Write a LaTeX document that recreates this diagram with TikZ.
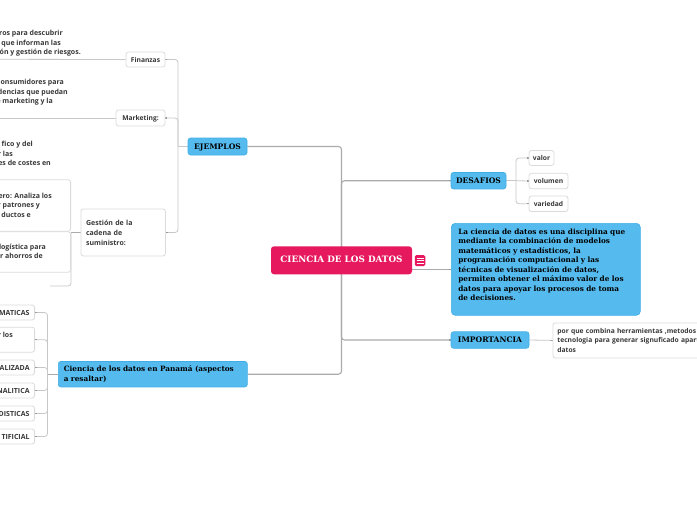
\documentclass[tikz,border=0pt]{standalone}
\usepackage{fontspec}
\usetikzlibrary{backgrounds}
\setmainfont{Open Sans}
\newfontfamily\slab{DejaVu Serif}
\definecolor{bluefill}{HTML}{55BBEE}
\definecolor{blueedge}{HTML}{3FAEE6}
\definecolor{pinkfill}{HTML}{E6195F}
\tikzset{
 x=1pt,y=-1pt,
 conn/.style={draw=black!22,line width=.8pt,rounded corners=3pt},
 lconn/.style={draw=black!33,line width=1.1pt,rounded corners=3pt},
 stub/.style={draw=black!40,line width=1.3pt},
 one/.style={text height=6pt,text depth=1pt},
 leaf/.style={draw=black!14,line width=.8pt,rounded corners=2.5pt,fill=white,text=black!78,font=\fontsize{6.7}{9.6}\selectfont\bfseries,inner sep=0pt,align=left},
 cutleaf/.style={leaf,anchor=east,minimum height=15,text width=70,inner xsep=5,align=right,font=\fontsize{7}{9.6}\selectfont\bfseries},
 bluebox/.style={draw=blueedge,line width=.6pt,rounded corners=2.5pt,fill=bluefill,text=black,inner sep=0pt,font=\slab\bfseries\fontsize{7.3}{9.5}\selectfont,align=left},
 bluehead/.style={bluebox,font=\slab\bfseries\fontsize{7.6}{9.5}\selectfont,one},
 frag/.style={font=\fontsize{7}{9.6}\selectfont\bfseries,text=black!78,inner sep=0pt,anchor=base east},
}
\begin{document}
\begin{tikzpicture}
\useasboundingbox (0,0) rectangle (697,520);
\clip (0,0) rectangle (697,520);
% main nodes
\node[bluehead,minimum width=59,minimum height=17] (ej) at (217.5,146.5) {EJEMPLOS};
\node[bluehead,minimum width=55,minimum height=16.5] (de) at (478.5,180.7) {DESAFIOS};
\node[bluehead,minimum width=78,minimum height=16.5] (im) at (490,340) {IMPORTANCIA};
\node[bluebox,minimum width=189,minimum height=92,anchor=north west,rounded corners=4pt,text width=175,inner xsep=7] (df) at (451,223) {La ciencia de datos es una disciplina que\\ mediante la combinación de modelos\\ matemáticos y estadísticos, la\\ programación computacional y las\\ técnicas de visualización de datos,\\ permiten obtener el máximo valor de los\\ datos para apoyar los procesos de toma\\ de decisiones.\\ \mbox{}};
\node[bluebox,minimum width=189,minimum height=25.5,anchor=west,text width=178,inner xsep=5.5] (ci) at (58,374.2) {Ciencia de los datos en Panamá (aspectos\\ a resaltar)};
\node[fill=pinkfill,rounded corners=3pt,minimum width=141,minimum height=28,inner sep=0pt,text=white,one,font=\slab\bfseries\fontsize{8.8}{10}\selectfont] (ct) at (341.5,260.3) {CIENCIA DE LOS DATOS};
\node[fill=pinkfill,rounded corners=1.5pt,minimum width=10.5,minimum height=11,inner sep=0pt] (me) at (420,260.5) {};
\foreach \d in {-2.5,0,2.5} {\draw[white,line width=.6pt] ([xshift=-3.5,yshift=\d]me.center) -- ([xshift=3.5,yshift=\d]me.center);}
% right leaves
\node[leaf,one,minimum width=25,minimum height=15] (va) at (541.5,158) {valor};
\node[leaf,one,minimum width=39,minimum height=15.5] (vo) at (548.5,181) {volumen};
\node[leaf,one,minimum width=39,minimum height=15.5] (vr) at (548.5,203.8) {variedad};
\node[leaf,anchor=north west,minimum width=155,minimum height=35,text width=175,inner xsep=4.5] (pq) at (552.5,322.5) {por que combina herramientas ,metodos y\\ tecnologia para generar signuficado apartir de\\ datos};
% left first level
\node[leaf,one,minimum width=39,minimum height=15] (fi) at (145.5,59.5) {Finanzas};
\node[leaf,one,minimum width=49,minimum height=16] (ma) at (140.5,118) {Marketing:};
\node[leaf,minimum width=84.5,minimum height=47,anchor=west,text width=74,inner xsep=5,font=\fontsize{7}{10}\selectfont\bfseries] (ge) at (80.5,232.5) {Gestión de la\\ cadena de\\ suministro:};
% left second level boxes
\node[leaf,anchor=east,minimum width=110,minimum height=51.5] (b1) at (71,205.5) {};
\node[leaf,anchor=east,minimum width=110,minimum height=40.5] (b2) at (71,252) {};
\coordinate (b3) at (50,286);
\coordinate (f0) at (0,59.3);
\coordinate (m0) at (0,118);
% cut leaves
\node[cutleaf,one] (l1) at (35,312.5) {MATICAS};
\node[cutleaf,minimum height=25] (l2) at (35,339.7) {};
\node[cutleaf,one] (l3) at (35,367.5) {ALIZADA};
\node[cutleaf,one] (l4) at (35,390.5) {NALITICA};
\node[cutleaf,one] (l5) at (35,413.5) {DISTICAS};
\node[cutleaf,one] (l6) at (35,436.5) {TIFICIAL};
% brackets
\coordinate (kd) at (516,180.7);
\coordinate (kl) at (178,146.5);
\coordinate (kg) at (71,232.5);
\coordinate (kc) at (47.5,374.2);
\begin{pgfonlayer}{background}
\fill[white] (0,0) rectangle (697,520);
\draw[lconn] (ct.center) |- (ej.east);
\draw[lconn] (ct.center) |- (ci.east);
\draw[lconn] (ct.center) |- (de.west);
\draw[lconn] (ct.center) |- (im.west);
\draw[lconn] (ct.east|-df.west) -- (df.west);
\draw[conn] (ej.west) -- (kl);
\draw[conn] (kl) |- (fi.east);
\draw[conn] (kl) |- (ma.east);
\draw[conn] (kl) |- (ge.east);
\draw[conn] (fi.west) -- (f0);
\draw[conn] (ma.west) -- (m0);
\draw[lconn] (ge.west) -- (kg);
\draw[conn] (kg) |- (b3);
\draw[conn] (de.east) -- (kd);
\draw[conn] (kd) |- (va.west);
\draw[conn] (kd) -- (vo.west);
\draw[conn] (kd) |- (vr.west);
\draw[conn] (im.east) -- (pq.west);
\draw[lconn] (ci.west) -- (kc);
\foreach \n in {l1,l2,l3,l4,l5,l6} {\draw[conn] (kc) |- (\n.east);}
\foreach \n in {fi,ma,ge,l1,l2,l3,l4,l5,l6} {\draw[stub] (\n.east) -- ++(2,0);}
\foreach \n in {va,vo,vr,pq,de,im,df} {\draw[stub] (\n.west) -- ++(-2,0);}
\end{pgfonlayer}
% clipped text fragments
\node[frag] (t1) at (63,35.5) {ros para descubrir};
\node[frag] (t2) at (61,45) {que informan las};
\node[frag] (t3) at (81,54.5) {ón y gestión de riesgos.};
\node[frag] (t4) at (64,84.5) {onsumidores para};
\node[frag] (t5) at (68,94) {dencias que puedan};
\node[frag] (t6) at (53,103.5) {e marketing y la};
\node[frag] (t7) at (33,146.5) {fico y del};
\node[frag] (t8) at (13,156) {r las};
\node[frag] (t9) at (51,165.5) {es de costes en};
\node[frag] (t10) at (52,198) {ero: Analiza los};
\node[frag] (t11) at (40,207.5) {r patrones y};
\node[frag] (t12) at (31,217) {ductos e};
\node[frag] (t13) at (46,249) {logística para};
\node[frag] (t14) at (43,258.5) {r ahorros de};
\node[frag] (t15) at (13,337.5) {r los};
\end{tikzpicture}
\end{document}
